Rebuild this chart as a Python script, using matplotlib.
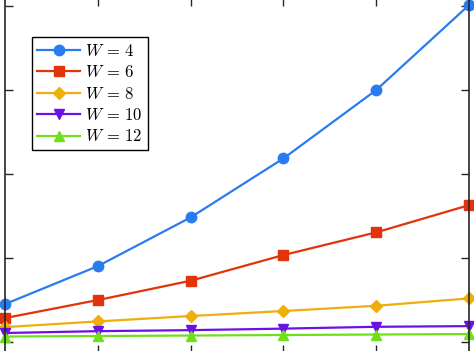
import matplotlib
matplotlib.use('Agg')
from matplotlib import pyplot as plt

# data (no tick labels visible, arbitrary units)
x = [10, 20, 30, 40, 50, 60]
w4 = [22.6, 45.2, 74.2, 109.3, 150.0, 200.6]
w6 = [14.3, 25.0, 36.5, 51.8, 65.3, 81.5]
w8 = [8.9, 12.3, 15.5, 18.5, 21.6, 26.0]
w10 = [5.4, 6.5, 7.1, 8.0, 9.1, 9.5]
w12 = [3.3, 3.6, 3.9, 4.2, 4.5, 4.8]

labels = [r'$W\,=\,4$', r'$W\,=\,6$', r'$W\,=\,8$', r'$W\,=\,10$', r'$W\,=\,12$']
series = [w4, w6, w8, w10, w12]
colors = ['#2a7bef', '#e2330a', '#efae0c', '#6b10e8', '#6ee01a']
markers = ['o', 's', 'D', 'v', '^']
msizes = [7.5, 6.5, 6.5, 7.5, 7.5]

plt.rcParams['mathtext.fontset'] = 'cm'

fig = plt.figure(figsize=(4.74, 3.51), dpi=100)
# axes deliberately a bit larger than the canvas (reference is a crop)
ax = fig.add_axes([5/474, -2/351, 464/474, 355/351])

for ys, lab, c, m, ms in zip(series, labels, colors, markers, msizes):
    ax.plot(x, ys, color=c, marker=m, ms=ms, lw=1.6, label=lab, clip_on=False)

ax.set_xlim(10, 60)
ax.set_ylim(-6.5, 204.8)
ax.set_xticks([20, 30, 40, 50])
ax.set_yticks([0, 50, 100, 150, 200])
ax.tick_params(direction='in', length=6, width=1, color='#262626',
               top=True, right=True, labelbottom=False, labelleft=False)
for s in ax.spines.values():
    s.set_color('#262626')
    s.set_linewidth(1.2)

leg = ax.legend(loc='upper left', bbox_to_anchor=(32/474, 1 - 37/351),
                bbox_transform=fig.transFigure, borderaxespad=0,
                fontsize=12, fancybox=False, framealpha=1, edgecolor='black',
                handlelength=2.6, handletextpad=0.3, labelspacing=0.2,
                borderpad=0.3)
leg.get_frame().set_linewidth(1.0)

fig.savefig('out.png', dpi=100)
